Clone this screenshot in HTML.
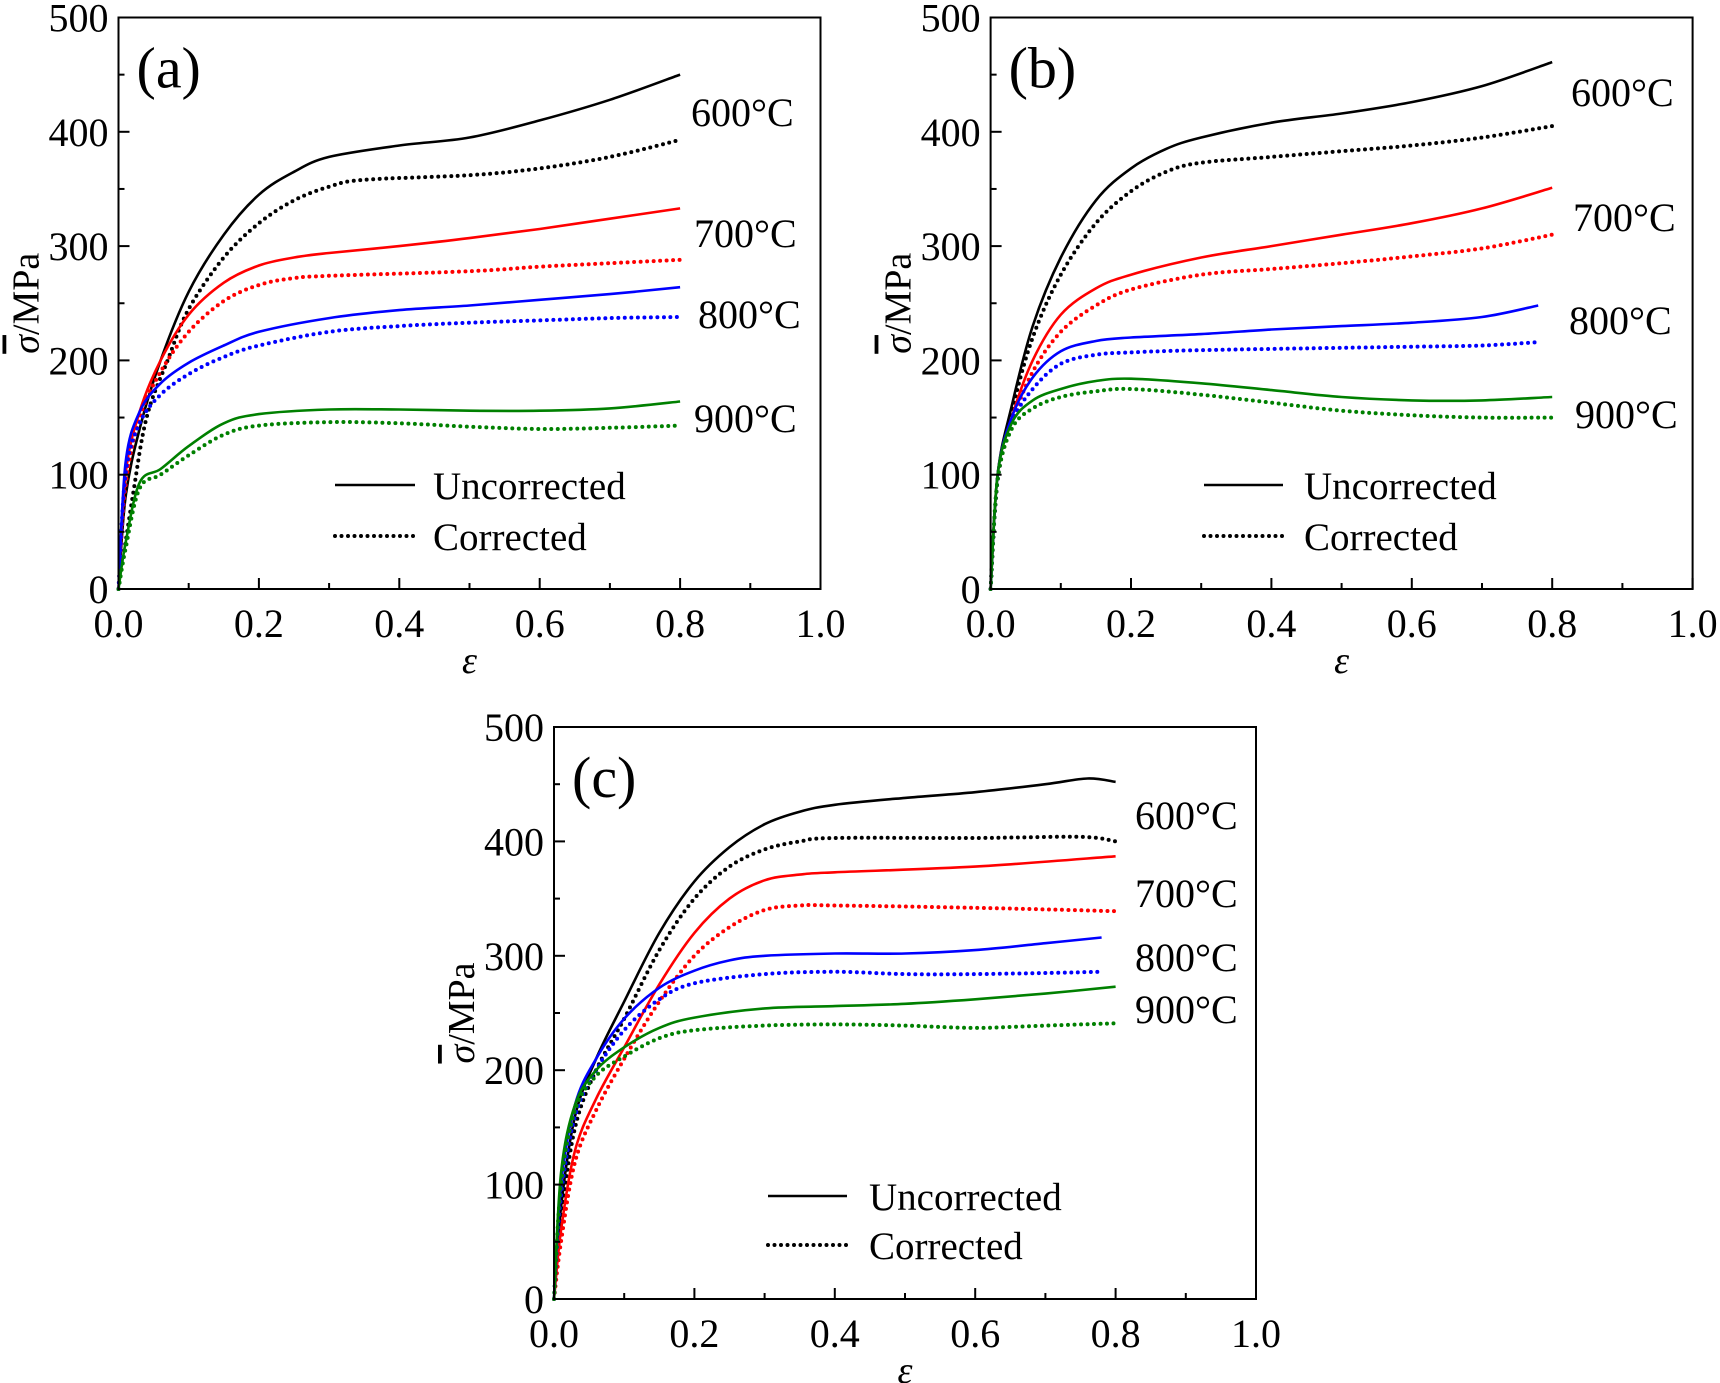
<!DOCTYPE html>
<html><head><meta charset="utf-8"><style>
html,body{margin:0;padding:0;background:#fff;}
svg{display:block;}
text{font-family:"Liberation Serif",serif;fill:#000;}
</style></head><body>
<svg id="s" width="1720" height="1383" xmlns="http://www.w3.org/2000/svg"></svg>
<script>
const S=document.getElementById('s');let out='';
const panels=[
{x0:118.5,x1:820.5,y5:17.5,y0:589,lab:'(a)',
 tl:[[691,112],[694,233],[698,314],[694,418]],leg:[335,415,433,485,536],
 d:{
 '600U':[[0,0],[0.01,80],[0.03,140],[0.06,200],[0.1,260],[0.15,310],[0.2,345],[0.25,365],[0.3,378],[0.4,388],[0.5,395],[0.6,410],[0.7,428],[0.8,450]],
 '600C':[[0,0],[0.02,80],[0.04,150],[0.07,200],[0.1,245],[0.15,290],[0.2,320],[0.25,340],[0.3,352],[0.35,358],[0.5,362],[0.6,368],[0.7,378],[0.8,393]],
 '700U':[[0,0],[0.01,100],[0.03,155],[0.06,200],[0.1,240],[0.15,268],[0.2,283],[0.25,290],[0.3,294],[0.4,300],[0.5,307],[0.6,315],[0.7,324],[0.8,333]],
 '700C':[[0,0],[0.01,90],[0.03,150],[0.06,190],[0.1,225],[0.15,252],[0.2,266],[0.25,272],[0.3,274],[0.5,278],[0.6,282],[0.7,285],[0.8,288]],
 '800U':[[0,0],[0.01,110],[0.03,155],[0.06,180],[0.1,198],[0.15,213],[0.2,225],[0.3,237],[0.4,244],[0.5,248],[0.6,253],[0.7,258],[0.8,264]],
 '800C':[[0,0],[0.01,100],[0.03,145],[0.06,170],[0.1,188],[0.15,203],[0.2,213],[0.3,225],[0.4,230],[0.5,233],[0.6,235],[0.7,237],[0.8,238]],
 '900U':[[0,0],[0.01,40],[0.03,93],[0.06,105],[0.1,125],[0.15,145],[0.2,153],[0.3,157],[0.4,157],[0.5,156],[0.6,156],[0.7,158],[0.8,164]],
 '900C':[[0,0],[0.01,35],[0.03,88],[0.06,100],[0.1,117],[0.15,135],[0.2,143],[0.3,146],[0.4,145],[0.5,142],[0.6,140],[0.7,141],[0.8,143]]}},
{x0:990.6,x1:1692.6,y5:17.5,y0:589,lab:'(b)',
 tl:[[1571,92],[1573,217],[1569,320],[1575,414]],leg:[1204,1283,1304,485,536],
 d:{
 '600U':[[0,0],[0.01,100],[0.03,160],[0.06,230],[0.1,290],[0.15,340],[0.2,368],[0.25,385],[0.3,395],[0.4,408],[0.5,416],[0.6,426],[0.7,440],[0.8,461]],
 '600C':[[0,0],[0.01,95],[0.03,155],[0.06,220],[0.1,275],[0.15,320],[0.2,348],[0.25,365],[0.3,373],[0.4,378],[0.5,383],[0.6,388],[0.7,395],[0.8,405]],
 '700U':[[0,0],[0.01,100],[0.03,150],[0.06,200],[0.1,240],[0.15,263],[0.2,275],[0.3,290],[0.4,300],[0.5,310],[0.6,320],[0.7,333],[0.8,351]],
 '700C':[[0,0],[0.01,95],[0.03,145],[0.06,190],[0.1,225],[0.15,248],[0.2,262],[0.3,275],[0.4,280],[0.5,285],[0.6,291],[0.7,298],[0.8,310]],
 '800U':[[0,0],[0.01,100],[0.03,150],[0.06,185],[0.1,208],[0.15,217],[0.2,220],[0.3,223],[0.4,227],[0.5,230],[0.6,233],[0.7,238],[0.78,248]],
 '800C':[[0,0],[0.01,95],[0.03,145],[0.06,175],[0.1,197],[0.15,205],[0.2,207],[0.3,209],[0.5,211],[0.6,212],[0.7,213],[0.78,216]],
 '900U':[[0,0],[0.01,100],[0.03,145],[0.06,165],[0.1,175],[0.15,182],[0.2,184],[0.3,180],[0.4,174],[0.5,168],[0.6,165],[0.7,165],[0.8,168]],
 '900C':[[0,0],[0.01,95],[0.03,140],[0.06,158],[0.1,168],[0.15,173],[0.2,175],[0.3,170],[0.4,163],[0.5,156],[0.6,152],[0.7,150],[0.8,150]]}},
{x0:554,x1:1256,y5:727,y0:1299,lab:'(c)',
 tl:[[1135,815],[1135,893],[1135,957],[1135,1009]],leg:[768,847,869,1196,1245],
 d:{
 '600U':[[0,0],[0.01,80],[0.03,160],[0.06,210],[0.1,260],[0.15,320],[0.2,365],[0.25,395],[0.3,415],[0.35,426],[0.4,432],[0.5,438],[0.6,443],[0.7,450],[0.76,455],[0.8,452]],
 '600C':[[0,0],[0.01,70],[0.03,150],[0.06,200],[0.1,245],[0.15,305],[0.2,350],[0.25,378],[0.3,393],[0.35,400],[0.4,403],[0.6,403],[0.75,404],[0.8,400]],
 '700U':[[0,0],[0.01,60],[0.03,130],[0.06,175],[0.1,220],[0.15,275],[0.2,320],[0.25,350],[0.3,366],[0.35,371],[0.4,373],[0.6,378],[0.8,387]],
 '700C':[[0,0],[0.01,50],[0.03,120],[0.06,165],[0.1,210],[0.15,260],[0.2,300],[0.25,325],[0.3,340],[0.35,344],[0.4,344],[0.6,342],[0.8,339]],
 '800U':[[0,0],[0.01,100],[0.03,170],[0.06,210],[0.1,245],[0.15,272],[0.2,287],[0.25,296],[0.3,300],[0.4,302],[0.5,302],[0.6,305],[0.7,311],[0.78,316]],
 '800C':[[0,0],[0.01,90],[0.03,160],[0.06,200],[0.1,235],[0.15,262],[0.2,276],[0.3,284],[0.4,286],[0.5,284],[0.6,284],[0.7,285],[0.78,286]],
 '900U':[[0,0],[0.01,110],[0.03,170],[0.06,200],[0.1,220],[0.15,237],[0.2,246],[0.3,254],[0.4,256],[0.5,258],[0.6,262],[0.7,267],[0.8,273]],
 '900C':[[0,0],[0.01,100],[0.03,165],[0.06,195],[0.1,212],[0.15,228],[0.2,235],[0.3,239],[0.4,240],[0.5,239],[0.6,237],[0.7,239],[0.8,241]]}}
];
const col={'600':'#000','700':'#f00','800':'#00f','900':'#008000'};
function path(pts){
 let d='M'+pts[0][0].toFixed(1)+','+pts[0][1].toFixed(1);
 for(let i=0;i<pts.length-1;i++){
  const p0=pts[Math.max(0,i-1)],p1=pts[i],p2=pts[i+1],p3=pts[Math.min(pts.length-1,i+2)];
  const c1=[p1[0]+(p2[0]-p0[0])/6,p1[1]+(p2[1]-p0[1])/6];
  const c2=[p2[0]-(p3[0]-p1[0])/6,p2[1]-(p3[1]-p1[1])/6];
  d+=' C'+c1.map(v=>v.toFixed(1)).join(',')+' '+c2.map(v=>v.toFixed(1)).join(',')+' '+p2[0].toFixed(1)+','+p2[1].toFixed(1);
 }
 return d;
}
for(const P of panels){
 const W=P.x1-P.x0,H=P.y0-P.y5;
 const X=e=>P.x0+e*W, Y=s=>P.y0-s/500*H;
 for(const k in P.d){
  const pts=P.d[k].map(p=>[X(p[0]),Y(p[1])]);
  const c=col[k.slice(0,3)];
  if(k.endsWith('U')) out+=`<path d="${path(pts)}" fill="none" stroke="${c}" stroke-width="2.6"/>`;
  else out+=`<path d="${path(pts)}" fill="none" stroke="${c}" stroke-width="4" stroke-linecap="round" stroke-dasharray="0 6.5"/>`;
 }
 out+=`<rect x="${P.x0}" y="${P.y5}" width="${W}" height="${H}" fill="none" stroke="#000" stroke-width="2"/>`;
 for(let i=0;i<=10;i++){const x=X(i/10),L=i%2?6:11;
  out+=`<line x1="${x}" y1="${P.y0}" x2="${x}" y2="${P.y0-L}" stroke="#000" stroke-width="2"/>`;
  if(i%2==0) out+=`<text x="${x}" y="${P.y0+48}" font-size="40" text-anchor="middle">${(i/10).toFixed(1)}</text>`;}
 for(let i=0;i<=10;i++){const y=Y(i*50),L=i%2?6:11;
  out+=`<line x1="${P.x0}" y1="${y}" x2="${P.x0+L}" y2="${y}" stroke="#000" stroke-width="2"/>`;
  if(i%2==0) out+=`<text x="${P.x0-10}" y="${y+14}" font-size="40" text-anchor="end">${i*50}</text>`;}
 out+=`<text x="${P.x0+W/2}" y="${P.y0+84}" font-size="38" font-style="italic" text-anchor="middle">ε</text>`;
 const yc=(P.y0+P.y5)/2, lx=P.x0-80;
 out+=`<text transform="translate(${lx},${yc}) rotate(-90)" font-size="38" text-anchor="middle"><tspan font-style="italic" text-decoration="overline">σ</tspan>/MPa</text>`;
 out+=`<text x="${P.x0+18}" y="${P.y5+70}" font-size="58">${P.lab}</text>`;
 const T=['600','700','800','900'];
 P.tl.forEach((t,i)=>out+=`<text x="${t[0]}" y="${t[1]+14}" font-size="40">${T[i]}°C</text>`);
 const g=P.leg;
 out+=`<line x1="${g[0]}" y1="${g[3]}" x2="${g[1]}" y2="${g[3]}" stroke="#000" stroke-width="2.6"/>`;
 out+=`<line x1="${g[0]}" y1="${g[4]}" x2="${g[1]}" y2="${g[4]}" stroke="#000" stroke-width="4" stroke-linecap="round" stroke-dasharray="0 6.5"/>`;
 out+=`<text x="${g[2]}" y="${g[3]+14}" font-size="39">Uncorrected</text>`;
 out+=`<text x="${g[2]}" y="${g[4]+14}" font-size="39">Corrected</text>`;
}
S.innerHTML=out;
</script>
</body></html>
